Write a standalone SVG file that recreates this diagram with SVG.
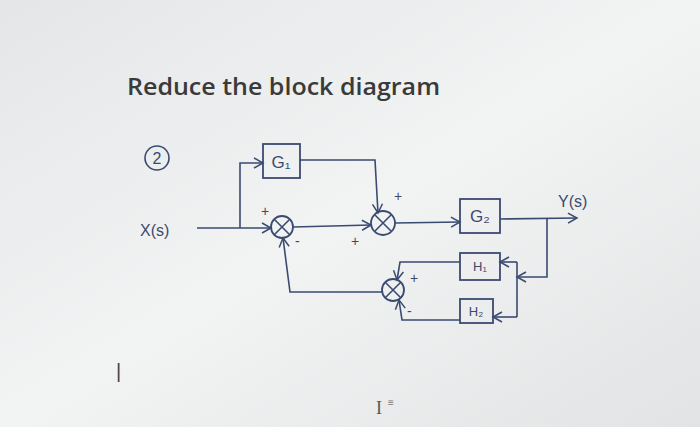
<svg xmlns="http://www.w3.org/2000/svg" width="700" height="427" viewBox="0 0 700 427">
<defs>
<marker id="a" markerWidth="12" markerHeight="12" refX="10" refY="6" orient="auto" markerUnits="userSpaceOnUse"><path d="M1,1 L10,6 L1,11" fill="none" stroke="#3a4a70" stroke-width="1.5"/></marker>
<linearGradient id="bg" x1="0" y1="0" x2="1" y2="1"><stop offset="0" stop-color="#e4e6e8"/><stop offset="0.5" stop-color="#f2f3f3"/><stop offset="1" stop-color="#e2e3e4"/></linearGradient>
</defs>
<style>
.l{fill:none;stroke:#3a4a70;stroke-width:1.6}
.b{fill:none;stroke:#3a4a70;stroke-width:1.8}
.t{font-family:"Liberation Sans",sans-serif;fill:#3a4a70}
.s{font-family:"Liberation Sans",sans-serif;fill:#3a4a70;font-size:14px}
</style>
<rect width="700" height="427" fill="url(#bg)"/>
<text x="127" y="95" font-family="Open Sans, sans-serif" font-size="24" font-weight="600" fill="#3a3a3a" textLength="313" lengthAdjust="spacingAndGlyphs">Reduce the block diagram</text>
<g id="num"><circle cx="157" cy="158" r="12" class="l"/><text x="157" y="164" text-anchor="middle" class="t" font-size="16">2</text></g>
<text x="140" y="236" class="t" font-size="16">X(s)</text>
<text x="558" y="207" class="t" font-size="16">Y(s)</text>
<g id="G1"><rect x="263" y="144" width="37" height="34" class="b"/><text x="281" y="168" text-anchor="middle" class="t" font-size="17">G₁</text></g>
<g id="G2"><rect x="460" y="199" width="40" height="34" class="b"/><text x="480" y="222" text-anchor="middle" class="t" font-size="17">G₂</text></g>
<g id="H1"><rect x="460" y="253" width="40" height="27" class="b"/><text x="480" y="271" text-anchor="middle" class="t" font-size="13">H₁</text></g>
<g id="H2"><rect x="460" y="299" width="33" height="24" class="b"/><text x="476" y="316" text-anchor="middle" class="t" font-size="13">H₂</text></g>
<g id="S1"><circle cx="282" cy="227" r="11" class="b"/><path d="M274,219 L290,235 M290,219 L274,235" class="l"/></g>
<g id="S2"><circle cx="383" cy="223" r="12" class="b"/><path d="M375,215 L391,231 M391,215 L375,231" class="l"/></g>
<g id="S3"><circle cx="393" cy="290" r="11" class="b"/><path d="M385,282 L401,298 M401,282 L385,298" class="l"/></g>
<g id="connectors">
<path d="M197,228 L271,228" class="l" marker-end="url(#a)"/>
<path d="M240,228 L240,163 L263,163" class="l" marker-end="url(#a)"/>
<path d="M300,160 L375,160 L378,213" class="l" marker-end="url(#a)"/>
<path d="M293,227 L371,225" class="l" marker-end="url(#a)"/>
<path d="M395,223 L460,222" class="l" marker-end="url(#a)"/>
<path d="M500,219 L577,218" class="l" marker-end="url(#a)"/>
<path d="M547,219 L547,277 L517,277" class="l" marker-end="url(#a)"/>
<path d="M517,262 L517,317" class="l"/>
<path d="M517,262 L500,262" class="l" marker-end="url(#a)"/>
<path d="M517,317 L493,317" class="l" marker-end="url(#a)"/>
<path d="M460,262 L400,262 L397,280" class="l" marker-end="url(#a)"/>
<path d="M460,320 L402,320 L399,300" class="l" marker-end="url(#a)"/>
<path d="M382,292 L290,292 L283,238" class="l" marker-end="url(#a)"/>
</g>
<text x="261" y="216" class="s">+</text>
<text x="295" y="246" class="s">-</text>
<text x="394" y="201" class="s">+</text>
<text x="351" y="246" class="s">+</text>
<text x="410" y="283" class="s">+</text>
<text x="407" y="316" class="s">-</text>
<text x="116" y="378" font-family="Liberation Sans, sans-serif" font-size="20" fill="#444">|</text>
<text x="376" y="414" font-family="Liberation Serif, serif" font-size="18" fill="#555">I</text>
<text x="388" y="406" font-family="Liberation Sans, sans-serif" font-size="10" fill="#777">≡</text>
</svg>
